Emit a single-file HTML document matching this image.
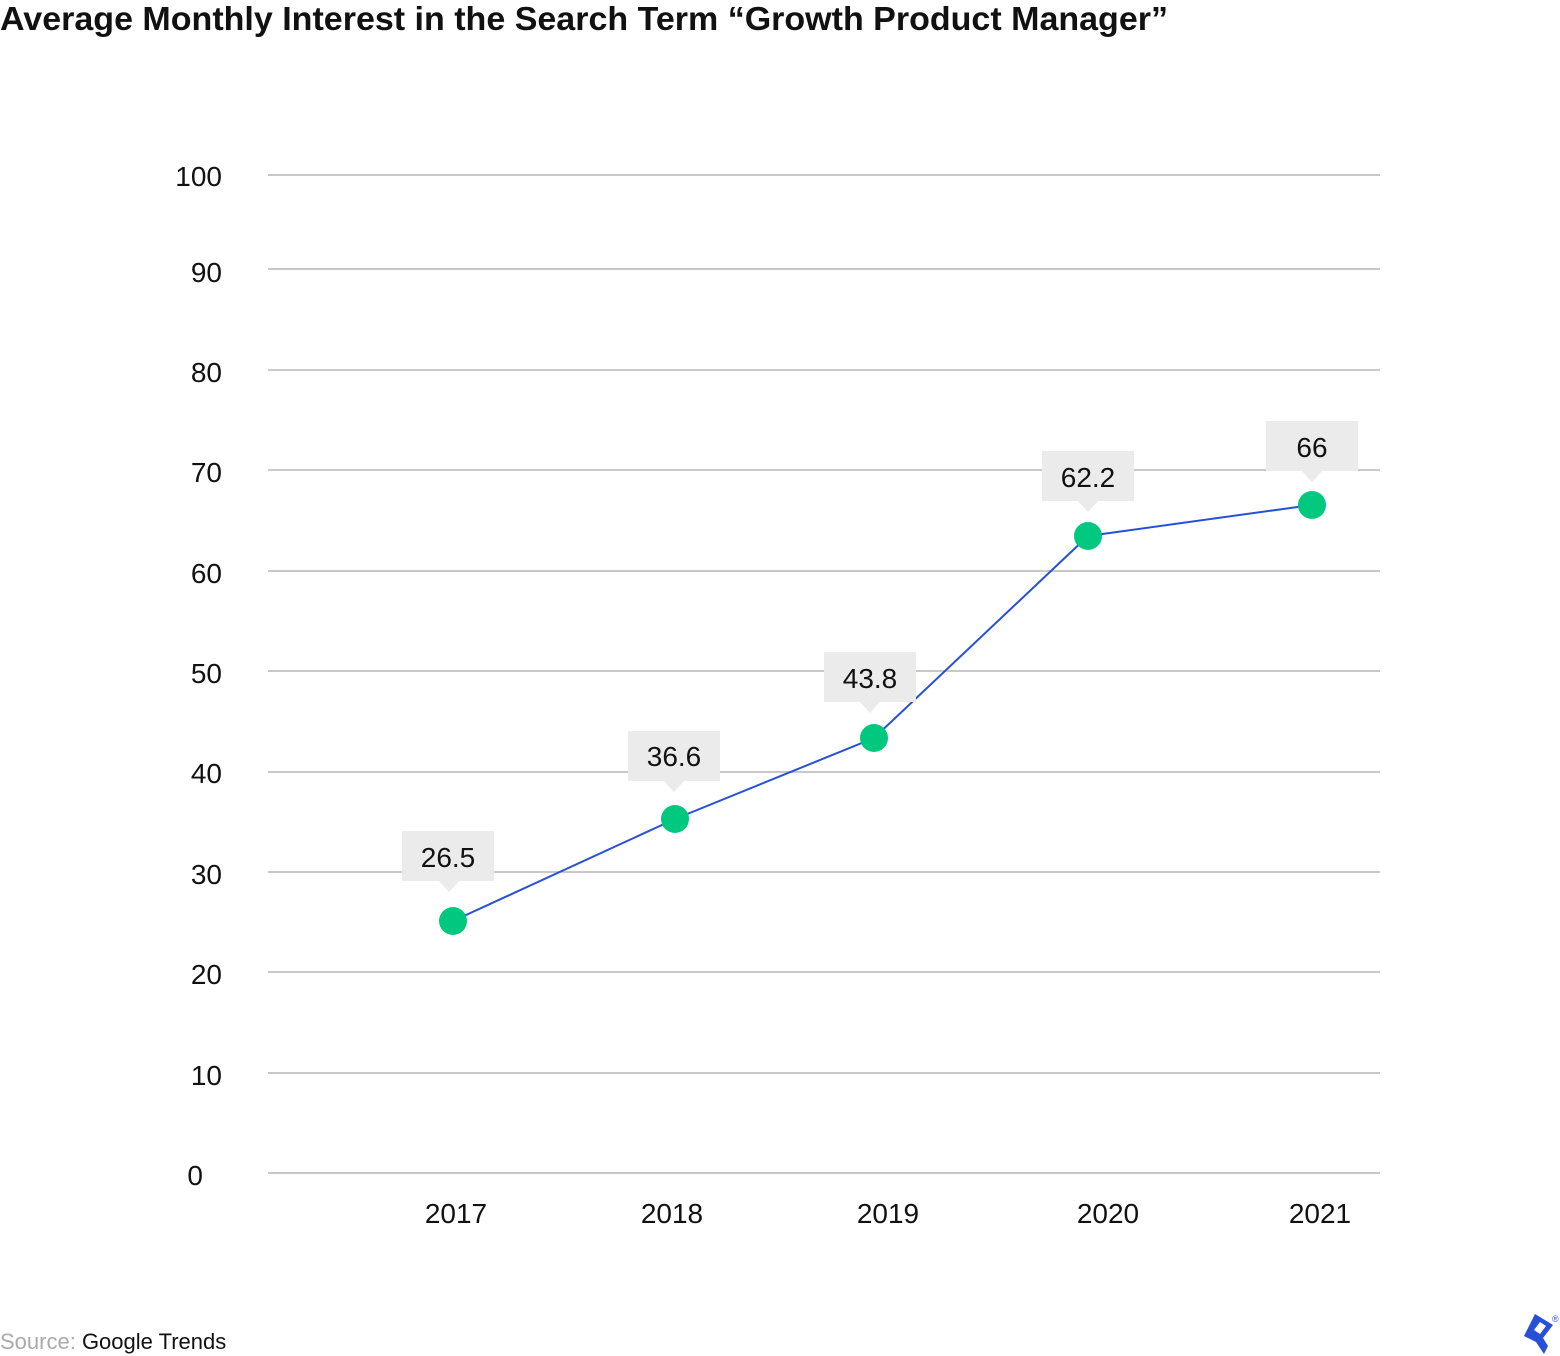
<!DOCTYPE html>
<html><head><meta charset="utf-8"><style>
html,body{margin:0;padding:0;background:#fff;}
svg{display:block;font-family:"Liberation Sans",sans-serif;}
</style></head><body>
<svg width="1560" height="1356" viewBox="0 0 1560 1356">
<text x="0" y="30" font-size="33" font-weight="bold" fill="#111" textLength="1168" lengthAdjust="spacingAndGlyphs">Average Monthly Interest in the Search Term “Growth Product Manager”</text>
<g stroke="#c8c8c8" stroke-width="2">
<line x1="268" x2="1380" y1="175" y2="175"/>
<line x1="268" x2="1380" y1="269" y2="269"/>
<line x1="268" x2="1380" y1="370" y2="370"/>
<line x1="268" x2="1380" y1="470" y2="470"/>
<line x1="268" x2="1380" y1="571" y2="571"/>
<line x1="268" x2="1380" y1="671" y2="671"/>
<line x1="268" x2="1380" y1="772" y2="772"/>
<line x1="268" x2="1380" y1="872" y2="872"/>
<line x1="268" x2="1380" y1="972" y2="972"/>
<line x1="268" x2="1380" y1="1073" y2="1073"/>
<line x1="268" x2="1380" y1="1173" y2="1173"/>
</g>
<g font-size="28" fill="#111" text-anchor="end">
<text x="222" y="186">100</text>
<text x="222" y="282">90</text>
<text x="222" y="382">80</text>
<text x="222" y="482">70</text>
<text x="222" y="583">60</text>
<text x="222" y="683">50</text>
<text x="222" y="783">40</text>
<text x="222" y="884">30</text>
<text x="222" y="984">20</text>
<text x="222" y="1085">10</text>
<text x="203" y="1185">0</text>
</g>
<g font-size="28" fill="#111" text-anchor="middle">
<text x="456" y="1223">2017</text>
<text x="672" y="1223">2018</text>
<text x="888" y="1223">2019</text>
<text x="1108" y="1223">2020</text>
<text x="1320" y="1223">2021</text>
</g>
<polyline points="453,921 675,819 874,738 1088,536 1312,505" fill="none" stroke="#2650d8" stroke-width="2"/>
<g fill="#ebebeb">
<rect x="402" y="831" width="92" height="50"/><polygon points="438,880 460,880 449,892"/>
<rect x="628" y="731" width="92" height="50"/><polygon points="663,780 685,780 674,792"/>
<rect x="824" y="652" width="92" height="50"/><polygon points="859,701 881,701 870,713"/>
<rect x="1042" y="451" width="92" height="50"/><polygon points="1077,500 1099,500 1088,512"/>
<rect x="1266" y="421" width="92" height="50"/><polygon points="1301,470 1323,470 1312,482"/>
</g>
<g font-size="28" fill="#111" text-anchor="middle">
<text x="448" y="867">26.5</text>
<text x="674" y="766">36.6</text>
<text x="870" y="688">43.8</text>
<text x="1088" y="487">62.2</text>
<text x="1312" y="457">66</text>
</g>
<g fill="#00c97f">
<circle cx="453" cy="921" r="14"/>
<circle cx="675" cy="819" r="14"/>
<circle cx="874" cy="738" r="14"/>
<circle cx="1088" cy="536" r="14"/>
<circle cx="1312" cy="505" r="14"/>
</g>
<text x="0" y="1349" font-size="22" fill="#111"><tspan fill="#aaa">Source: </tspan>Google Trends</text>
<g fill="#2650d8">
<polygon points="1524,1336 1535,1314 1553,1325 1543,1338 1548,1346 1544,1354 1536,1342"/>
</g>
<polygon points="1534,1330 1540,1322 1546,1326 1540,1334" fill="#fff"/>
<text x="1552" y="1322" font-size="9" fill="#2650d8">®</text>
</svg>
</body></html>
